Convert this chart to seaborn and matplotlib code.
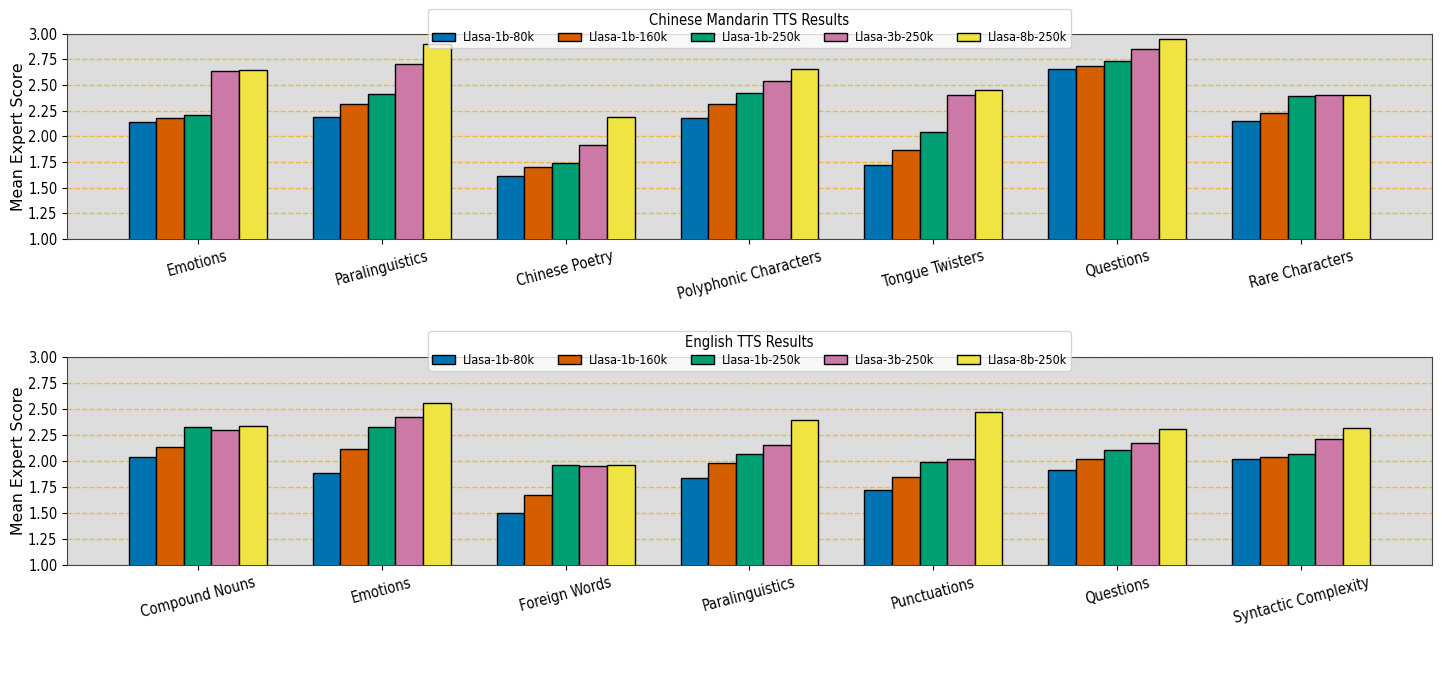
import matplotlib
matplotlib.use("Agg")
import matplotlib.pyplot as plt
import seaborn as sns
import pandas as pd

plt.rcParams["font.family"] = ["DejaVu Sans"]
plt.rcParams["font.stretch"] = "condensed"

# models (hue order) and colours
models = ["Llasa-1b-80k", "Llasa-1b-160k", "Llasa-1b-250k", "Llasa-3b-250k", "Llasa-8b-250k"]
colors = ["#0072B2", "#D55E00", "#009E73", "#CC79A7", "#F0E442"]

# Chinese Mandarin results
zh_categories = ["Emotions", "Paralinguistics", "Chinese Poetry", "Polyphonic Characters",
                 "Tongue Twisters", "Questions", "Rare Characters"]
zh_1b_80k = [2.14, 2.19, 1.61, 2.18, 1.72, 2.66, 2.15]
zh_1b_160k = [2.18, 2.32, 1.70, 2.32, 1.87, 2.69, 2.23]
zh_1b_250k = [2.21, 2.41, 1.74, 2.42, 2.04, 2.74, 2.39]
zh_3b_250k = [2.64, 2.71, 1.92, 2.54, 2.40, 2.85, 2.40]
zh_8b_250k = [2.65, 2.90, 2.19, 2.66, 2.45, 2.95, 2.40]

# English results
en_categories = ["Compound Nouns", "Emotions", "Foreign Words", "Paralinguistics",
                 "Punctuations", "Questions", "Syntactic Complexity"]
en_1b_80k = [2.04, 1.89, 1.50, 1.84, 1.72, 1.91, 2.02]
en_1b_160k = [2.13, 2.12, 1.67, 1.98, 1.85, 2.02, 2.04]
en_1b_250k = [2.33, 2.33, 1.96, 2.07, 1.99, 2.11, 2.07]
en_3b_250k = [2.30, 2.42, 1.95, 2.15, 2.02, 2.17, 2.21]
en_8b_250k = [2.34, 2.56, 1.96, 2.39, 2.47, 2.31, 2.32]


def to_long(categories, series):
    rows = []
    for m, vals in zip(models, series):
        for c, v in zip(categories, vals):
            rows.append({"category": c, "model": m, "score": v})
    return pd.DataFrame(rows)


zh_df = to_long(zh_categories, [zh_1b_80k, zh_1b_160k, zh_1b_250k, zh_3b_250k, zh_8b_250k])
en_df = to_long(en_categories, [en_1b_80k, en_1b_160k, en_1b_250k, en_3b_250k, en_8b_250k])

fig = plt.figure(figsize=(14.42, 6.77), dpi=100)
ax1 = fig.add_axes([0.0465, 0.647, 0.9465, 0.303])
ax2 = fig.add_axes([0.0465, 0.165, 0.9465, 0.308])


def draw(ax, df, categories, title):
    sns.barplot(data=df, x="category", y="score", hue="model", order=categories,
                hue_order=models, palette=colors, saturation=1, width=0.75,
                edgecolor="black", linewidth=1, errorbar=None, ax=ax, zorder=3)
    ax.set_facecolor("#DDDDDD")
    ax.set_ylim(1.0, 3.0)
    ax.set_xlim(-0.71, len(categories) - 1 + 0.71)
    ax.set_yticks([1.0, 1.25, 1.5, 1.75, 2.0, 2.25, 2.5, 2.75, 3.0])
    ax.set_yticklabels([f"{t:.2f}" for t in ax.get_yticks()], fontsize=10.5)
    ax.yaxis.grid(True, linestyle="--", color="#F2B640", linewidth=1.0, snap=True, zorder=0)
    ax.xaxis.grid(False)
    ax.set_axisbelow(True)
    ax.set_xlabel("")
    ax.set_ylabel("Mean Expert Score", fontsize=11.3, fontstretch="normal", labelpad=1)
    ax.set_xticks(range(len(categories)))
    ax.set_xticklabels(categories, rotation=15, ha="center", fontsize=10.5)
    for s in ax.spines.values():
        s.set_color("#444444")
    leg = ax.legend(title=title, ncol=5, loc="upper center", bbox_to_anchor=(0.5, 1.122),
                    borderaxespad=0, fontsize=9, title_fontsize=10.5, frameon=True,
                    handlelength=1.85, handletextpad=0.65, columnspacing=1.8,
                    borderpad=0.3, labelspacing=0.3)
    leg.get_frame().set_facecolor("white")
    leg.get_frame().set_edgecolor("#CCCCCC")
    leg.set_zorder(5)


draw(ax1, zh_df, zh_categories, "Chinese Mandarin TTS Results")
draw(ax2, en_df, en_categories, "English TTS Results")

fig.savefig("out.png", dpi=100)
